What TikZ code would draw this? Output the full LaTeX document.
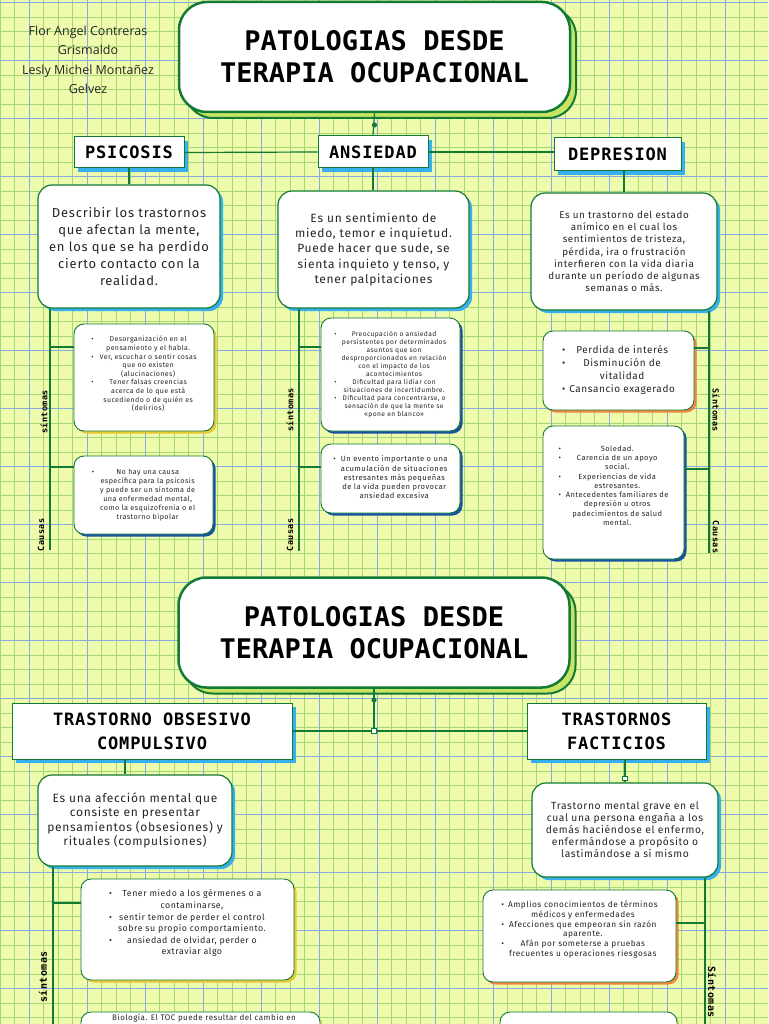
\documentclass[tikz,border=0pt]{standalone}
\usepackage{fontspec}
\setmainfont{Fira Sans}[LetterSpace=6]
\newfontfamily\titlefam{DejaVu Sans Mono}
\newfontfamily\monofam{DejaVu Sans Mono}[LetterSpace=5]
\newfontfamily\namefam{Open Sans}
\usepackage{tikz}
\usetikzlibrary{shapes,shapes.misc,shapes.geometric}
\usetikzlibrary{positioning,fit,backgrounds,shadows}
\definecolor{bgyellow}{RGB}{238,250,172}
\definecolor{gridg}{RGB}{164,216,116}
\definecolor{gridb}{RGB}{136,170,222}
\definecolor{dkgreen}{RGB}{18,122,52}
\definecolor{ltgreen}{RGB}{200,228,100}
\definecolor{skyblue}{RGB}{56,176,240}
\definecolor{navyb}{RGB}{22,82,162}
\definecolor{gold}{RGB}{232,200,48}
\definecolor{orng}{RGB}{240,134,64}
\newcommand{\blt}{\textbullet}
\newcommand{\sz}[2]{\fontsize{#1}{#2}\selectfont}

\tikzset{
  titlebox/.style={draw=dkgreen, line width=2.5pt, fill=white, rounded corners=28pt,
    minimum width=391pt, minimum height=110pt, align=center, inner sep=0pt,
    font=\titlefam\bfseries\sz{27}{32}, text=black,
    general shadow={fill=ltgreen, draw=dkgreen, line width=2pt, shadow xshift=6pt, shadow yshift=-6pt}},
  headbox/.style={draw=dkgreen, line width=1pt, fill=white, align=center, inner sep=0pt,
    font=\monofam\bfseries\sz{17}{24}, text=black,
    general shadow={fill=skyblue, shadow xshift=4pt, shadow yshift=-4pt}},
  descbox/.style={draw=dkgreen, line width=1.2pt, fill=white, rounded corners=14pt,
    align=center, inner sep=0pt, text=black!85,
    general shadow={fill=skyblue, shadow xshift=3pt, shadow yshift=-3pt}},
  itembox/.style={draw=dkgreen, line width=0.9pt, fill=white, rounded corners=10pt,
    inner sep=0pt, text=black!85,
    general shadow={fill=#1, shadow xshift=2.5pt, shadow yshift=-2.5pt}},
  itembox/.default=navyb,
  link/.style={draw=dkgreen, line width=1.2pt},
  sidetag/.style={font=\monofam\bfseries\sz{8.5}{10}, text=black},
}

\begin{document}
\begin{tikzpicture}[x=1pt,y=-1pt]
\useasboundingbox (0,0) rectangle (768,1024);
\fill[bgyellow] (0,0) rectangle (768,1024);
\clip (0,0) rectangle (768,1024);

% grid paper
\foreach \k in {0,...,53}{\draw[gridg, line width=0.75pt] (14.5*\k,0) -- (14.5*\k,1024);}
\foreach \k in {0,...,70}{\draw[gridg, line width=0.75pt] (0,2.7+14.5*\k) -- (768,2.7+14.5*\k);}
\foreach \k in {2,6,...,50}{\draw[gridb, line width=0.6pt] (14.5*\k,0) -- (14.5*\k,1024);}
\foreach \k in {0,4,...,68}{\draw[gridb, line width=0.6pt] (0,2.7+14.5*\k) -- (768,2.7+14.5*\k);}

%% page 1
\begin{scope}
\draw(88,60) node[align=center, font=\namefam\sz{12.5}{19.5}, text=black!85] (names)
  {Flor Angel Contreras\\Grismaldo\\Lesly Michel Montañez\\Gelvez};
\draw(374.5,57) node[titlebox] (title) {PATOLOGIAS DESDE\\TERAPIA OCUPACIONAL};

\draw(129,152.5) node[headbox, minimum width=110pt, minimum height=31pt] (psicosis) {PSICOSIS};
\draw(373,152) node[headbox, minimum width=110pt, minimum height=32pt] (ansiedad) {ANSIEDAD};
\draw(617.5,154.5) node[headbox, minimum width=127pt, minimum height=33pt] (depresion) {DEPRESION};

\draw[link] (title.south) -- (ansiedad.north);
\fill[dkgreen] (title.south |- 0,125) circle (2.6);
\draw[link] (psicosis.east) -- (ansiedad.west);
\draw[link] (ansiedad.east) -- (ansiedad.east -| depresion.west);

\draw(129,246.5) node[descbox, minimum width=182pt, minimum height=123pt, font=\sz{13}{17}] (psidesc)
  {Describir los trastornos\\que afectan la mente,\\en los que se ha perdido\\cierto contacto con la\\realidad.};
\draw(373.5,249.5) node[descbox, minimum width=191pt, minimum height=117pt, font=\sz{12}{15.3}] (ansdesc)
  {Es un sentimiento de\\miedo, temor e inquietud.\\Puede hacer que sude, se\\sienta inquieto y tenso, y\\tener palpitaciones};
\draw(624,251.5) node[descbox, minimum width=186pt, minimum height=117pt, font=\sz{9.8}{12.2}] (depdesc)
  {Es un trastorno del estado\\anímico en el cual los\\sentimientos de tristeza,\\pérdida, ira o frustración\\interfieren con la vida diaria\\durante un período de algunas\\semanas o más.};

\draw[link] (psicosis.south) -- (psidesc.north);
\draw[link] (ansiedad.south) -- (ansiedad.south |- ansdesc.north);
\draw[link] (depdesc.north |- depresion.south) -- (depdesc.north);

\draw(144,377.5) node[itembox=gold, minimum width=140pt, minimum height=107pt, font=\sz{7}{8.6}] (psisin)
  {\begin{tabular}{@{}c@{\hspace{6pt}}c@{}}
  \blt & Desorganización en el\\ & pensamiento y el habla.\\
  \blt & Ver, escuchar o sentir cosas\\ & que no existen\\ & (alucinaciones)\\
  \blt & Tener falsas creencias\\ & acerca de lo que está\\ & sucediendo o de quién es\\ & (delirios)\\[6pt]
  \end{tabular}};
\draw(143.5,495) node[itembox, minimum width=139pt, minimum height=78pt, font=\sz{7.2}{9}] (psicau)
  {\begin{tabular}{@{}c@{\hspace{6pt}}c@{}}
  \blt & No hay una causa\\ & específica para la psicosis\\ & y puede ser un síntoma de\\
       & una enfermedad mental,\\ & como la esquizofrenia o el\\ & trastorno bipolar
  \end{tabular}};
\draw(390.5,374.5) node[itembox, minimum width=139pt, minimum height=113pt, font=\sz{6.7}{8}] (ansin)
  {\begin{tabular}{@{}c@{\hspace{5pt}}c@{}}
  \blt & Preocupación o ansiedad\\ & persistentes por determinados\\ & asuntos que son\\
       & desproporcionados en relación\\ & con el impacto de los\\ & acontecimientos\\
  \blt & Dificultad para lidiar con\\ & situaciones de incertidumbre.\\
  \blt & Dificultad para concentrarse, o\\ & sensación de que la mente se\\ & «pone en blanco»
  \end{tabular}};
\draw(390.5,478.5) node[itembox, minimum width=139pt, minimum height=69pt, font=\sz{7.6}{9.2}] (anscau)
  {\begin{tabular}{@{}c@{\hspace{5pt}}c@{}}
  \blt & Un evento importante o una\\ & acumulación de situaciones\\ & estresantes más pequeñas\\
       & de la vida pueden provocar\\ & ansiedad excesiva
  \end{tabular}};
\draw(618.5,370.5) node[itembox=orng, minimum width=151pt, minimum height=79pt, font=\sz{10}{12.8}] (depsin)
  {\begin{tabular}{@{}c@{\hspace{4pt}}c@{}}
  \blt & Perdida de interés\\ \blt & Disminución de\\ & vitalidad\\ \blt & Cansancio exagerado
  \end{tabular}};
\draw(613.5,492.5) node[itembox, minimum width=141pt, minimum height=133pt, font=\sz{7.5}{9.3}] (depcau)
  {\begin{tabular}{@{}c@{\hspace{5pt}}c@{}}
  \blt & Soledad.\\ \blt & Carencia de un apoyo\\ & social.\\ \blt & Experiencias de vida\\ & estresantes.\\
  \blt & Antecedentes familiares de\\ & depresión u otros\\ & padecimientos de salud\\ & mental.\\[12pt]
  \end{tabular}};

% side lines
\coordinate (psiend) at (50,550);
\coordinate (psib1) at (50,347);
\coordinate (psib2) at (50,467);
\draw[link] (psiend |- psidesc.south) -- (psiend);
\draw[link] (psib1) -- (psib1 -| psisin.west);
\draw[link] (psib2) -- (psib2 -| psicau.west);
\draw(44,412) node[sidetag, rotate=90] (psisn) {síntomas};
\draw(41,535) node[sidetag, rotate=90] (psics) {Causas};

\coordinate (ansend) at (299,551);
\coordinate (ansb1) at (299,347);
\coordinate (ansb2) at (299,467);
\draw[link, line width=2pt] (ansend |- ansdesc.south) -- (ansend);
\draw[link] (ansb1) -- (ansb1 -| ansin.west);
\draw[link] (ansb2) -- (ansb2 -| anscau.west);
\draw(290,410) node[sidetag, rotate=90] (anssn) {síntomas};
\draw(290,535) node[sidetag, rotate=90] (anscs) {Causas};

\coordinate (depend) at (709,553);
\coordinate (depb1) at (709,348);
\coordinate (depb2) at (709,469);
\draw[link] (depend |- depdesc.south) -- (depend);
\draw[link] (depsin.east |- depb1) -- (depb1);
\draw[link] (depcau.east |- depb2) -- (depb2);
\draw(716,410) node[sidetag, rotate=-90] (depsn) {Síntomas};
\draw(716,537) node[sidetag, rotate=-90] (depcs) {Causas};
\end{scope}

%% page 2
\begin{scope}
\draw(374,632.5) node[titlebox] (title2) {PATOLOGIAS DESDE\\TERAPIA OCUPACIONAL};
\draw(152,731) node[headbox, minimum width=280pt, minimum height=56pt] (toc) {TRASTORNO OBSESIVO\\COMPULSIVO};
\draw(616.5,731) node[headbox, minimum width=179pt, minimum height=56pt] (tf) {TRASTORNOS\\FACTICIOS};

\draw[link] (title2.south) -- (title2.south |- toc.east);
\fill[dkgreen] (title2.south |- 0,700) circle (2.6);
\draw[link] (toc.east) -- (tf.west);
\draw[dkgreen, fill=white, line width=0.8pt] (title2.south |- toc.east) +(-2.2,-2.2) rectangle +(2.2,2.2);

\draw(135,820.5) node[descbox, minimum width=194pt, minimum height=91pt, font=\sz{12}{14.2}] (tocdesc)
  {Es una afección mental que\\consiste en presentar\\pensamientos (obsesiones) y\\rituales (compulsiones)};
\draw(625,830) node[descbox, minimum width=186pt, minimum height=94pt, font=\sz{10.3}{12}] (tfdesc)
  {Trastorno mental grave en el\\cual una persona engaña a los\\demás haciéndose el enfermo,\\enfermándose a propósito o\\lastimándose a sí mismo};

\draw[link] (toc.south -| tocdesc.north) ++(-10,0) coordinate (tocdown) -- (tocdown |- tocdesc.north);
\draw[link] (tfdesc.north |- tf.south) -- (tfdesc.north);
\draw[dkgreen, fill=white, line width=0.8pt] (tfdesc.north) ++(0,-4) +(-2.2,-2.2) rectangle +(2.2,2.2);

\draw(187.5,929.5) node[itembox=gold, minimum width=213pt, minimum height=101pt, font=\sz{8.8}{11.6}] (tocsin)
  {\begin{tabular}{@{}c@{\hspace{6pt}}c@{}}
  \blt & Tener miedo a los gérmenes o a\\ & contaminarse,\\
  \blt & sentir temor de perder el control\\ & sobre su propio comportamiento.\\
  \blt & ansiedad de olvidar, perder o\\ & extraviar algo\\[12pt]
  \end{tabular}};
\draw(200.5,1062) node[itembox=ltgreen, minimum width=239pt, minimum height=100pt] (tocbio) {};
\draw(204,1018.5) node[font=\sz{8}{9.5}, text=black!85] (biotxt) {Biología. El TOC puede resultar del cambio en};

\draw(579.5,936) node[itembox=orng, minimum width=193pt, minimum height=92pt, font=\sz{8.3}{9.8}] (tfsin)
  {\begin{tabular}{@{}c@{\hspace{4pt}}c@{}}
  \blt & Amplios conocimientos de términos\\ & médicos y enfermedades\\
  \blt & Afecciones que empeoran sin razón\\ & aparente.\\
  \blt & Afán por someterse a pruebas\\ & frecuentes u operaciones riesgosas\\[12pt]
  \end{tabular}};
\draw(588.5,1062) node[itembox=ltgreen, minimum width=177pt, minimum height=100pt] (tfnext) {};

\coordinate (tocend) at (53,1030);
\coordinate (tocb1) at (53,903);
\draw[link] (tocend |- tocdesc.south) -- (tocend);
\draw[link] (tocb1) -- (tocb1 -| tocsin.west);
\draw(43,977) node[sidetag, rotate=90, font=\monofam\bfseries\sz{10}{12}] (tocsn) {síntomas};

\coordinate (tfend) at (705,1030);
\coordinate (tfb1) at (705,923);
\draw[link] (tfend |- tfdesc.south) -- (tfend);
\draw[link] (tfsin.east |- tfb1) -- (tfb1);
\draw(712,992) node[sidetag, rotate=-90, font=\monofam\bfseries\sz{10}{12}] (tfsn) {Síntomas};
\end{scope}
\end{tikzpicture}
\end{document}
